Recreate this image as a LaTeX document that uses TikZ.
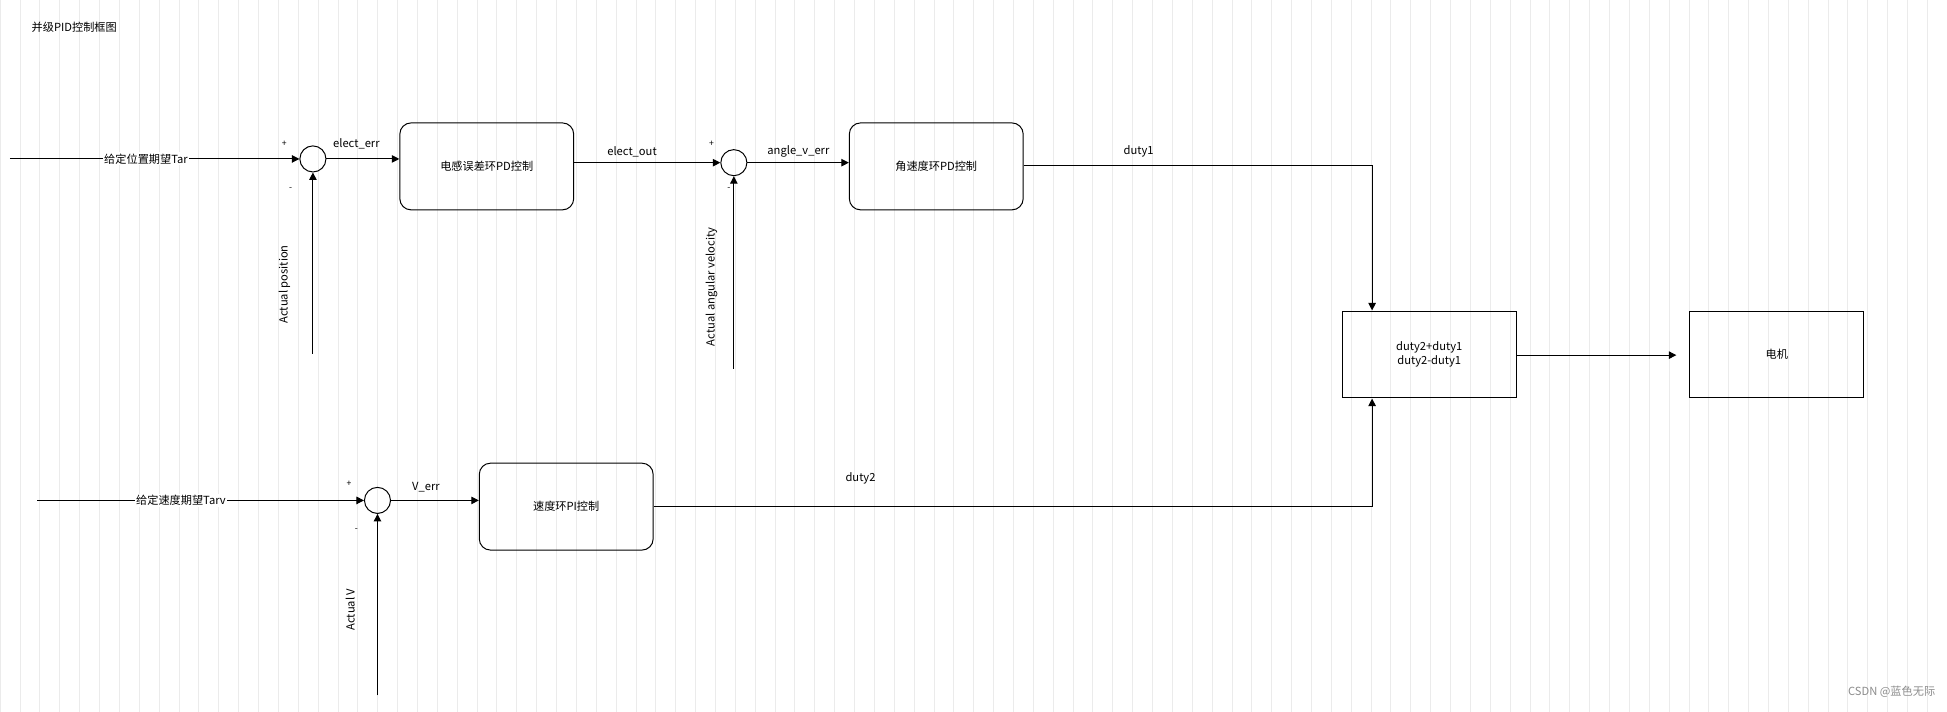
\documentclass[tikz,border=0pt]{standalone}
\usepackage{fontspec}
\setmainfont{Noto Sans CJK SC}
\usetikzlibrary{arrows.meta}
\begin{document}
\begin{tikzpicture}[x=1pt,y=-1pt,font=\fontsize{9}{11}\selectfont,
  blk/.style={draw,line width=0.8pt,minimum width=140pt,minimum height=70pt,align=center},
  rblk/.style={blk,rounded corners=9pt},
  sum/.style={draw,circle,line width=0.8pt,minimum size=21pt,inner sep=0pt},
  arr/.style={line width=0.8pt,-{Triangle[length=6pt,width=6pt]}},
  ln/.style={line width=0.8pt},
  lbl/.style={fill=white,inner sep=1pt},
  sg/.style={font=\fontsize{7}{8}\selectfont}]
\useasboundingbox (0,0) rectangle (1568,573);
\fill[white] (0,0) rectangle (1568,573);
\draw[black!8,line width=0.4pt,step=16] (0,0) grid (1568,573);
\node[anchor=west] (title) at (22,22) {并级PID控制框图};
% top loop
\node[sum] (s1) at (252,128) {};
\coordinate (in1) at (8,128);
\draw[arr] (in1) -- node[lbl,pos=0.47]{给定位置期望Tar} (s1);
\node[sg] (p1) at (229,116) {+};
\node[sg] (m1) at (234,152) {-};
\coordinate (f1) at (252,285);
\draw[arr] (f1) -- (s1);
\node[rotate=90] (ap) at (229,229) {Actual position};
\node[rblk] (b1) at (392,134) {电感误差环PD控制};
\draw[arr] (s1) -- (b1.west|-s1);
\node (ee) at (287,116) {elect\_err};
\node[sum] (s2) at (591,131) {};
\draw[arr] (b1.east|-s2) -- (s2);
\node (eo) at (509,122) {elect\_out};
\node[sg] (p2) at (573,116) {+};
\node[sg] (m2) at (587,152) {-};
\coordinate (f2) at (591,297);
\draw[arr] (f2) -- (s2);
\node[rotate=90] (aav) at (573,231) {Actual angular velocity};
\node[rblk] (b2) at (754,134) {角速度环PD控制};
\draw[arr] (s2) -- (b2.west|-s2);
\node (av) at (643,122) {angle\_v\_err};
\node[blk] (b3) at (1151,285.5) {duty2+duty1\\duty2-duty1};
\draw[arr] (b2.east|-0,133) -- (1105,133) -- (1105,250);
\node (d1) at (917,122) {duty1};
\node[blk] (b4) at (1431,285.5) {电机};
\coordinate (e4) at (1350,286);
\draw[arr] (b3.east|-e4) -- (e4);
% bottom loop
\node[sum] (s3) at (304,403) {};
\coordinate (in3) at (30,403);
\draw[arr] (in3) -- node[lbl,pos=0.44]{给定速度期望Tarv} (s3);
\node[sg] (p3) at (281,390) {+};
\node[sg] (m3) at (287,427) {-};
\coordinate (f3) at (304,560);
\draw[arr] (f3) -- (s3);
\node[rotate=90] (avl) at (282,491) {Actual V};
\node[rblk] (b5) at (456,408) {速度环PI控制};
\draw[arr] (s3) -- (b5.west|-s3);
\node (ve) at (343,392) {V\_err};
\draw[arr] (b5.east) -- (1105,408) -- (1105,321);
\node (d2) at (693,385) {duty2};
\node[text=black!45,anchor=east] (wm) at (1562,557) {CSDN @蓝色无际};
\end{tikzpicture}
\end{document}
